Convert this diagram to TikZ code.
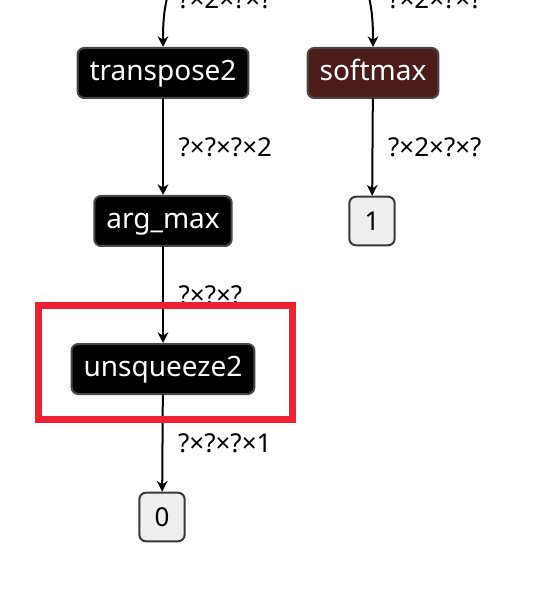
\documentclass[tikz,border=0pt]{standalone}
\usepackage{fontspec}
\setmainfont{Noto Sans}
\usetikzlibrary{arrows.meta}
\begin{document}
\begin{tikzpicture}
% graph view exported from the model viewer
\def\pxsz{0.75pt}
\providecommand{\netOpBorderColor}{black!72}
\providecommand{\netIoBorderColor}{black!78}
\providecommand{\netEdgeWidth}{1.5pt}
\providecommand{\netSelectWidth}{5.25pt}
\definecolor{netSoftmaxFill}{RGB}{75,28,25}
\definecolor{netIoFill}{RGB}{238,238,238}
\definecolor{netSelectColor}{RGB}{238,33,50}
\begin{scope}[x=\pxsz, y=-\pxsz, line cap=round, line join=round,
  op/.style={draw=\netOpBorderColor, fill=black, text=white, line width=1.5pt,
    rounded corners=5pt, minimum height=37.5pt, inner xsep=9pt, text height=15pt, text depth=4pt,
    font=\fontsize{21}{25}\selectfont},
  io/.style={draw=\netIoBorderColor, fill=netIoFill, text=black, line width=1.5pt,
    rounded corners=5pt, minimum height=36.5pt, minimum width=34pt, font=\fontsize{19.5}{23}\selectfont},
  flow/.style={draw=black, line width=\netEdgeWidth, -{Stealth[length=8pt, width=8pt, inset=2.5pt]}},
  dimlabel/.style={anchor=west, text=black, inner sep=0pt, font=\fontsize{19.5}{23}\selectfont}]
  % Page frame
  \useasboundingbox (0,0) rectangle (538,616);
  \clip (0,0) rectangle (538,616);
  % Operator nodes
  \node[op] (transpose) at (163,73) {transpose2};
  \node[op, fill=netSoftmaxFill] (softmax) at (373,73) {softmax};
  \node[op] (argmax) at (163,221) {arg\_max};
  \node[op] (unsqueeze) at (163,369) {unsqueeze2};
  % Output nodes
  \node[io] (outB) at (372,221) {1};
  \node[io] (outA) at (162,517) {0};
  % Incoming edges from above the view
  \coordinate (inA) at (192,-45);
  \coordinate (inB) at (346,-45);
  \draw[flow] (inA) .. controls (166,-18) and (163,8) .. (transpose.north);
  \draw[flow] (inB) .. controls (370,-18) and (373,8) .. (softmax.north);
  \node[dimlabel] (dimA) at (178,-1) {?×2×?×?};
  \node[dimlabel] (dimB) at (388,-1) {?×2×?×?};
  % Edges between nodes
  \draw[flow] (transpose) -- node[dimlabel, midway, xshift=11pt] {?×?×?×2} (argmax);
  \draw[flow] (softmax) -- node[dimlabel, midway, xshift=11pt] {?×2×?×?} (outB);
  \draw[flow] (argmax) -- node[dimlabel, midway, xshift=11pt] {?×?×?} (unsqueeze);
  \draw[flow] (unsqueeze) -- node[dimlabel, midway, xshift=11pt] {?×?×?×1} (outA);
  % Selection frame
  \draw[draw=netSelectColor, line width=\netSelectWidth, line join=miter, line cap=butt]
    (38.5,305.5) rectangle (292.5,419.5);
\end{scope}
\end{tikzpicture}
\end{document}
